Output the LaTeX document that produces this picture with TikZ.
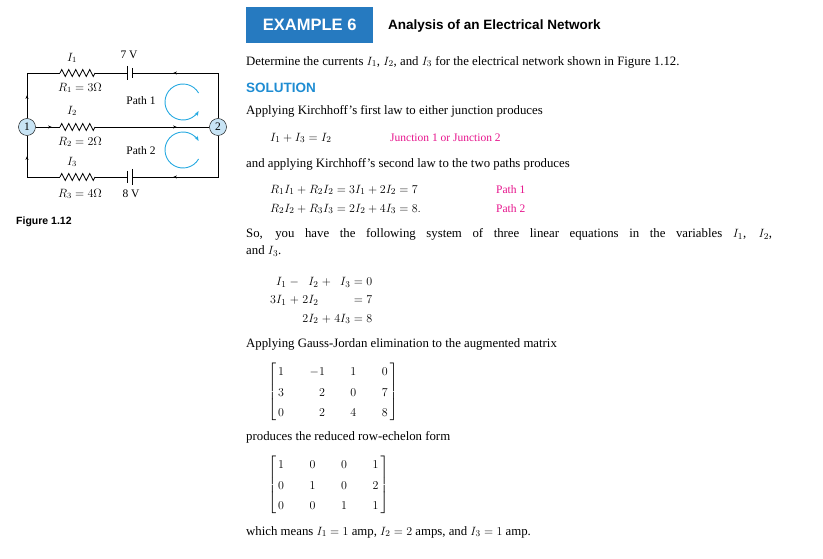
\documentclass[tikz,border=0pt]{standalone}
\usepackage{amsmath}
\usepackage{fontspec}
\setmainfont{Liberation Serif}
\newfontfamily\hsans{Liberation Sans}
\usetikzlibrary{arrows.meta,decorations.pathmorphing}
\definecolor{exblue}{RGB}{38,122,192}
\definecolor{solblue}{RGB}{30,140,210}
\definecolor{arcblue}{RGB}{40,170,225}
\definecolor{nodefill}{RGB}{200,228,245}
\definecolor{mag}{RGB}{230,20,140}
\begin{document}
\begin{tikzpicture}[x=1pt,y=-1pt,
  txt/.style={anchor=west,inner sep=0pt,font=\fontsize{12.8}{16}\selectfont},
  lab/.style={inner sep=0pt,font=\fontsize{11.5}{13}\selectfont},
  pink/.style={anchor=west,inner sep=0pt,text=mag,font=\fontsize{11.5}{13}\selectfont},
  wire/.style={line width=0.8pt},
  junc/.style={circle,draw,fill=nodefill,minimum size=17pt,inner sep=0pt,font=\fontsize{11.5}{13}\selectfont},
  res/.style={wire,decorate,decoration={zigzag,segment length=7pt,amplitude=3.5pt}},
  loop/.style={arcblue,line width=0.9pt,-{Stealth[length=5pt]}}
]
\useasboundingbox (0,0) rectangle (823,559);
% circuit
\node[junc] (n1) at (27,127) {1};
\node[junc] (n2) at (218,127) {2};
\coordinate (tl) at (27,73); \coordinate (tr) at (218,73);
\coordinate (bl) at (27,177); \coordinate (br) at (218,177);
\coordinate (r1a) at (60,73); \coordinate (r1b) at (95,73);
\coordinate (r2a) at (60,127); \coordinate (r2b) at (95,127);
\coordinate (r3a) at (60,177); \coordinate (r3b) at (95,177);
\coordinate (b1a) at (127,73); \coordinate (b1b) at (132,73);
\coordinate (b2a) at (127,177); \coordinate (b2b) at (132,177);
\draw[wire] (n1) -- (tl) -- (r1a);
\draw[res] (r1a) -- (r1b);
\draw[wire] (r1b) -- (b1a);
\draw[wire] (127,66) -- (127,80); \draw[wire] (132,68) -- (132,78);
\draw[wire] (b1b) -- (tr) -- (n2);
\draw[wire] (n1) -- (r2a); \draw[res] (r2a) -- (r2b); \draw[wire] (r2b) -- (n2);
\draw[wire] (n1) -- (bl) -- (r3a); \draw[res] (r3a) -- (r3b);
\draw[wire] (r3b) -- (b2a);
\draw[wire] (127,171) -- (127,183); \draw[wire] (132,169) -- (132,185);
\draw[wire] (b2b) -- (br) -- (n2);
% small arrowheads
\foreach \p/\a in {{(175,73)}/180,{(175,177)}/180,{(175,127)}/0,{(50,127)}/0,{(27,97)}/90,{(27,158)}/90}
  \node[inner sep=0pt,rotate=\a] at \p {\tikz[baseline]\draw[-{Stealth[length=3.5pt,width=3pt]}] (0,0)--(0.1pt,0);};
\node[lab] (i1) at (72,58) {$I_1$};
\node[lab] (v7) at (129,55) {7 V};
\node[lab] (rr1) at (80,88) {$R_1 = 3\Omega$};
\node[lab] (p1) at (141,101) {Path 1};
\node[lab] (i2) at (72,111) {$I_2$};
\node[lab] (rr2) at (80,142) {$R_2 = 2\Omega$};
\node[lab] (p2) at (141,151) {Path 2};
\node[lab] (i3) at (72,162) {$I_3$};
\node[lab] (rr3) at (80,194) {$R_3 = 4\Omega$};
\node[lab] (v8) at (131,194) {8 V};
\draw[loop] (183,102) ++(-30:18) arc[start angle=-30,delta angle=-300,radius=18];
\draw[loop] (183,150) ++(30:18) arc[start angle=30,delta angle=300,radius=18];
\node[anchor=west,inner sep=0pt,font=\hsans\bfseries\fontsize{10.5}{12}\selectfont] (fig) at (16,222) {Figure 1.12};
% header
\node[anchor=north west,fill=exblue,minimum width=127pt,minimum height=36pt,inner sep=0pt,text=white,font=\hsans\bfseries\fontsize{16.5}{18}\selectfont] (ex) at (246,7) {EXAMPLE 6};
\node[anchor=west,inner sep=0pt,font=\hsans\bfseries\fontsize{13.5}{15}\selectfont] (ttl) at (388,26) {Analysis of an Electrical Network};
\node[txt] (t1) at (246,62) {Determine the currents $I_1$, $I_2$, and $I_3$ for the electrical network shown in Figure 1.12.};
\node[anchor=west,inner sep=0pt,text=solblue,font=\hsans\bfseries\fontsize{13.5}{15}\selectfont] (sol) at (246,88) {SOLUTION};
\node[txt] (t2) at (246,111) {Applying Kirchhoff’s first law to either junction produces};
\node[txt] (e1) at (270,138) {$I_1 + I_3 = I_2$};
\node[pink] (j1) at (390,138) {Junction 1 or Junction 2};
\node[txt] (t3) at (246,164) {and applying Kirchhoff’s second law to the two paths produces};
\node[txt] (e2) at (270,190) {$R_1I_1 + R_2I_2 = 3I_1 + 2I_2 = 7$};
\node[txt] (e3) at (270,209) {$R_2I_2 + R_3I_3 = 2I_2 + 4I_3 = 8.$};
\node[pink] (pa1) at (496,190) {Path 1};
\node[pink] (pa2) at (496,209) {Path 2};
\node[txt,anchor=north west,text width=526pt,align=justify,font=\fontsize{12.8}{17}\selectfont] (t4) at (246,228) {So, you have the following system of three linear equations in the variables $I_1$, $I_2$,\linebreak and $I_3$.};
\node[txt] (sys) at (270,300) {\renewcommand{\arraystretch}{1.15}$\begin{array}{@{}r@{\;}c@{\;}r@{\;}c@{\;}r@{\;}l@{}}
I_1 &-& I_2 &+& I_3 &= 0\\
3I_1 &+& 2I_2 & & &= 7\\
 & & 2I_2 &+& 4I_3 &= 8
\end{array}$};
\node[txt] (t5) at (246,344) {Applying Gauss-Jordan elimination to the augmented matrix};
\node[txt] (m1) at (268,392) {\renewcommand{\arraystretch}{1.3}$\left[\begin{array}{@{\,}r@{\qquad}r@{\qquad}r@{\qquad}r@{\,}}1&-1&1&0\\3&2&0&7\\0&2&4&8\end{array}\right]$};
\node[txt] (t6) at (246,437) {produces the reduced row-echelon form};
\node[txt] (m2) at (268,485) {\renewcommand{\arraystretch}{1.3}$\left[\begin{array}{@{\,}r@{\qquad}r@{\qquad}r@{\qquad}r@{\,}}1&0&0&1\\0&1&0&2\\0&0&1&1\end{array}\right]$};
\node[txt] (t7) at (246,532) {which means $I_1 = 1$ amp, $I_2 = 2$ amps, and $I_3 = 1$ amp.};
\end{tikzpicture}
\end{document}
